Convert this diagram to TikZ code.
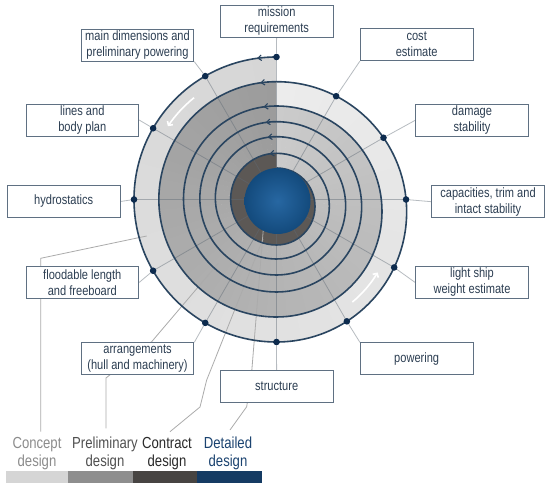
\documentclass[tikz,border=0pt]{standalone}
\usepackage{fontspec}
\setmainfont{Liberation Sans}[FakeStretch=0.82]
\usetikzlibrary{arrows.meta,calc}
\definecolor{navy}{HTML}{2A4560}
\definecolor{dotc}{HTML}{0D2B4E}
\definecolor{boxline}{HTML}{5F7082}
\definecolor{boxtext}{HTML}{2C3E52}
\definecolor{conA}{HTML}{D6D6D6}
\definecolor{conB}{HTML}{ECECEC}
\definecolor{preA}{HTML}{9C9C9C}
\definecolor{preB}{HTML}{CBCBCB}
\definecolor{contr}{HTML}{5C5855}
\definecolor{blueA}{HTML}{2767A2}
\definecolor{blueB}{HTML}{134A7C}
\definecolor{radc}{HTML}{5F6A75}
\definecolor{legl}{HTML}{ABABAB}
\definecolor{legA}{HTML}{D5D5D5}
\definecolor{legB}{HTML}{8E8E8E}
\definecolor{legC}{HTML}{474442}
\definecolor{legD}{HTML}{153B63}
\definecolor{txtA}{HTML}{8C8C8C}
\definecolor{txtB}{HTML}{505050}
\definecolor{txtC}{HTML}{2A2A2A}
\definecolor{txtD}{HTML}{1B4370}
\begin{document}
\begin{tikzpicture}[x=1pt,y=1pt,
  box/.style={draw=boxline, line width=0.9pt, fill=white, minimum width=112.7pt,
    minimum height=32pt, inner sep=1pt, align=center, text=boxtext,
    font=\fontsize{13.5}{16}\selectfont},
  dotn/.style={circle, fill=dotc, inner sep=0pt, minimum size=6.6pt},
  spiral/.style={draw=navy, line width=1.6pt},
  radial/.style={draw=radc, draw opacity=0.45, line width=0.8pt},
  legline/.style={draw=legl, line width=0.8pt},
  legtext/.style={align=center, inner sep=0pt, font=\fontsize{16}{18.7}\selectfont},
  whitearrow/.style={draw=white, line width=1.6pt, -{Straight Barb[length=3pt,width=6.5pt]}},
  chev/.pic={\draw[navy, line width=1.1pt] (3.6,2.8) -- (0,0) -- (3.6,-2.8);}
]
\useasboundingbox (0,0) rectangle (550,489);
\fill[white] (0,0) rectangle (550,489);
\coordinate (C) at (276.5,289.5);

% concept band (outer turn)
\begin{scope}
\clip (276.5,432) arc[start angle=90,end angle=270,radius=142.5]
  arc[start angle=-90,end angle=90,radius=130.15] -- cycle;
\foreach \i in {0,...,71}{
  \pgfmathtruncatemacro{\pct}{round(100*\i/71)}
  \pgfmathsetmacro{\angA}{90+5*\i}
  \pgfmathsetmacro{\angB}{min(95.4+5*\i,450)}
  \fill[conB!\pct!conA] (C) -- +(\angA:200) -- +(\angB:200) -- cycle;
}
\end{scope}
% preliminary region
\begin{scope}
\clip (276.5,407.3) arc[start angle=90,end angle=270,radius=117.65]
  arc[start angle=-90,end angle=90,radius=105.5] -- cycle;
\foreach \i in {0,...,71}{
  \pgfmathtruncatemacro{\pct}{round(100*\i/71)}
  \pgfmathsetmacro{\angA}{90+5*\i}
  \pgfmathsetmacro{\angB}{min(95.4+5*\i,450)}
  \fill[preB!\pct!preA] (C) -- +(\angA:200) -- +(\angB:200) -- cycle;
}
\end{scope}
% contract ring
\fill[contr] (276.5,335.7) arc[start angle=90,end angle=270,radius=45.85]
  arc[start angle=-90,end angle=90,radius=38.5] -- cycle;

% spoke points on the outer spiral
\coordinate (p1) at (276.5,432);
\coordinate (p2) at (205.25,412.9);
\coordinate (p3) at (153.1,360.75);
\coordinate (p4) at (134,289.5);
\coordinate (p5) at (153.1,218.25);
\coordinate (p6) at (205.25,166.1);
\coordinate (p7) at (276.5,147);
\coordinate (p8) at (346.85,167.65);
\coordinate (p9) at (394.2,221.55);
\coordinate (p10) at (406.06,289.5);
\coordinate (p11) at (383.5,351.25);
\coordinate (p12) at (336.15,392.8);
\foreach \k in {1,...,12} \draw[radial] (C) -- (p\k);

% legend texts
\node[legtext, text=txtA] (lc) at (37,35.5) {Concept\\design};
\node[legtext, text=txtB] (lp) at (105,35.5) {Preliminary\\design};
\node[legtext, text=txtC] (lk) at (167,35.5) {Contract\\design};
\node[legtext, text=txtD] (ld) at (228,35.5) {Detailed\\design};
\coordinate (ce) at (146.7,253);
\coordinate (pe) at (218.3,225.7);
\coordinate (ke) at (263,250);
\coordinate (de) at (263.5,262);
\draw[legline] ([xshift=3.7pt,yshift=5pt]lc.north) -- (40.7,230.7) -- (ce);
\draw[legline] ([xshift=1pt,yshift=8pt]lp.north) -- (106,111) -- (151.7,147.3) -- (pe);
\draw[legline] ([xshift=3pt,yshift=5pt]lk.north) -- (200,82) -- (206.7,109) -- (ke);
\draw[legline] ([xshift=2pt,yshift=6.5pt]ld.north) -- (246.7,82.3) -- (251.7,117.3) -- (de);

% spiral
\draw[spiral] (276.5,432) arc[start angle=90,end angle=270,radius=142.5]
  arc[start angle=-90,end angle=90,radius=130.15]
  arc[start angle=90,end angle=270,radius=117.65]
  arc[start angle=-90,end angle=90,radius=105.5]
  arc[start angle=90,end angle=270,radius=93]
  arc[start angle=-90,end angle=90,radius=85.15]
  arc[start angle=90,end angle=270,radius=76.65]
  arc[start angle=-90,end angle=90,radius=69.15]
  arc[start angle=90,end angle=270,radius=61.15]
  arc[start angle=-90,end angle=90,radius=52.85]
  arc[start angle=90,end angle=270,radius=45.85]
  arc[start angle=-90,end angle=90,radius=38.5];
\pic[rotate=7.5] at ([shift={(97.5:142.5)}]276.5,289.5) {chev};
\pic[rotate=7.5] at ([shift={(97.5:117.65)}]276.5,289.65) {chev};
\pic[rotate=7.5] at ([shift={(97.5:93)}]276.5,290) {chev};
\pic[rotate=7.5] at ([shift={(97.5:76.65)}]276.5,290.65) {chev};
\pic[rotate=7.5] at ([shift={(97.5:61.15)}]276.5,291.15) {chev};
\pic[rotate=7.5] at ([shift={(97.5:45.85)}]276.5,289.85) {chev};

% white direction arrows
\draw[whitearrow] ([shift={(129:131)}]276.5,289.5) arc[start angle=129,end angle=146,radius=131];
\draw[whitearrow] ([shift={(-50:118)}]276.5,277.3) arc[start angle=-50,end angle=-31,radius=118];

% detailed design core
\shade[inner color=blueA, outer color=blueB] (277.5,288) circle[radius=33];

% dots
\foreach \k in {1,...,12} \node[dotn] (d\k) at (p\k) {};

% boxes
\node[box] (mission) at (276.7,467.7) {mission\\requirements};
\node[box] (main) at (137.5,443.8) {main dimensions and\\preliminary powering};
\node[box] (cost) at (416.7,444.3) {cost\\estimate};
\node[box] (lines) at (82.3,369) {lines and\\body plan};
\node[box] (dam) at (472,368.7) {damage\\stability};
\node[box] (hydro) at (63.7,287.5) {hydrostatics};
\node[box] (cap) at (488,287.3) {capacities, trim and\\intact stability};
\node[box] (flood) at (82.3,206.5) {floodable length\\and freeboard};
\node[box] (light) at (472,206.5) {light ship\\weight estimate};
\node[box] (arr) at (137.5,130.2) {arrangements\\(hull and machinery)};
\node[box] (pow) at (416.7,130.2) {powering};
\node[box] (struct) at (276.7,102.3) {structure};

% connectors
\draw[radial] (d1) -- (mission);
\draw[radial] (d2) -- (main.south east);
\draw[radial] (d3) -- (lines.east);
\draw[radial] (d4) -- (hydro.east);
\draw[radial] (d5) -- (flood.east);
\draw[radial] (d6) -- (arr.north east);
\draw[radial] (d7) -- (struct);
\draw[radial] (d8) -- (pow.north west);
\draw[radial] (d9) -- (light.west);
\draw[radial] (d10) -- (cap.west);
\draw[radial] (d11) -- (dam.west);
\draw[radial] (d12) -- (cost.south west);

% legend bar
\fill[legA] (6,6.3) rectangle (68.3,18.3);
\fill[legB] (68.3,6.3) rectangle (132.7,18.3);
\fill[legC] (132.7,6.3) rectangle (196.7,18.3);
\fill[legD] (196.7,6.3) rectangle (261.7,18.3);
\end{tikzpicture}
\end{document}
